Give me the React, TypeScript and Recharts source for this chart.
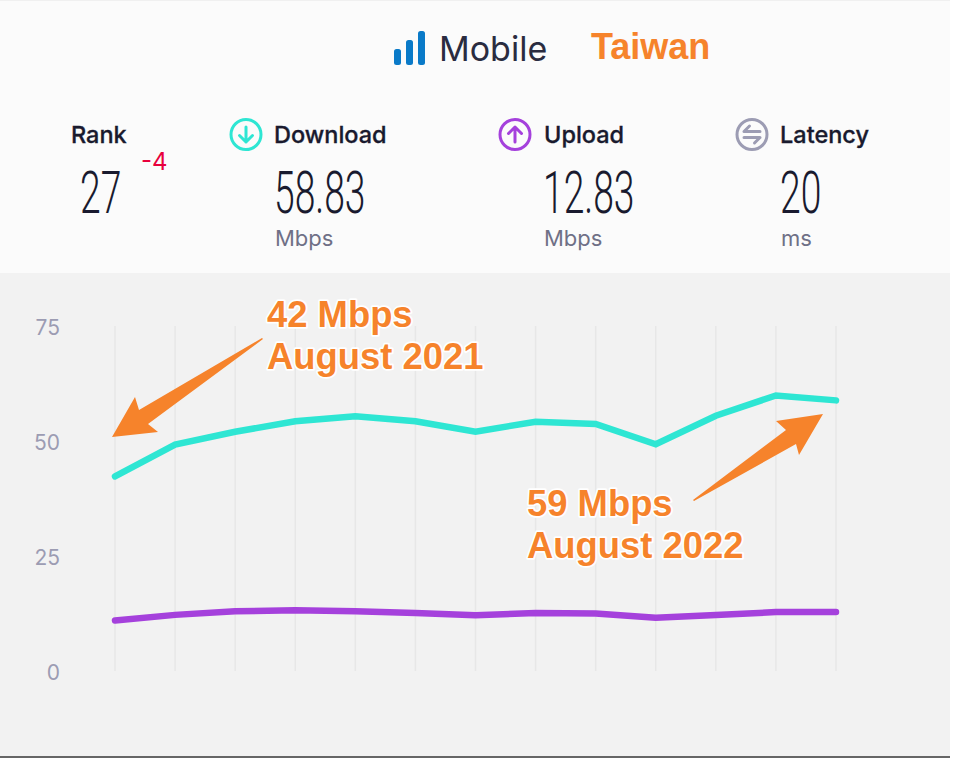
import { LineChart, Line, XAxis, YAxis, CartesianGrid } from "recharts";

const months = ["Aug 21", "Sep 21", "Oct 21", "Nov 21", "Dec 21", "Jan 22", "Feb 22", "Mar 22", "Apr 22", "May 22", "Jun 22", "Jul 22", "Aug 22"];
const download = [42.3, 49.2, 52, 54.3, 55.4, 54.3, 52, 54.2, 53.7, 49.3, 55.5, 59.9, 58.83];
const upload = [11, 12.2, 13, 13.2, 13, 12.6, 12.1, 12.6, 12.5, 11.6, 12.2, 12.8, 12.83];
const yTicks = [0, 25, 50, 75];

const chartData = months.map((month, i) => ({ month, download: download[i], upload: upload[i] }));

const ORANGE = "#f6832b";
const TEAL = "#2ee6d3";
const PURPLE = "#a541dc";
const GREY = "#9c9cb3";
const DARK = "#191a2e";
const LABEL_FONT = "Inter, sans-serif";
const NOTE_FONT = "'Liberation Sans', Arial, sans-serif";

function Label({ x, y, text }: { x: number; y: number; text: string }) {
  return (
    <div style={{ position: "absolute", left: x, top: y, fontFamily: LABEL_FONT, fontWeight: 500, fontSize: 23.5, lineHeight: "30px", color: DARK, whiteSpace: "nowrap", WebkitTextStroke: "0.3px #191a2e" }}>
      {text}
    </div>
  );
}

// thin condensed numbers, squeezed from a light font
function BigNum({ x, text }: { x: number; text: string }) {
  return (
    <div style={{ position: "absolute", left: x, top: 170, fontFamily: "Roboto, sans-serif", fontWeight: 300, fontSize: 60, lineHeight: "46px", color: DARK, whiteSpace: "nowrap", transform: "scaleX(0.62)", transformOrigin: "left top" }}>
      {text}
    </div>
  );
}

function Unit({ x, text }: { x: number; text: string }) {
  return (
    <div style={{ position: "absolute", left: x, top: 226, fontFamily: LABEL_FONT, fontSize: 22, lineHeight: "24px", color: "#6f7086", whiteSpace: "nowrap" }}>
      {text}
    </div>
  );
}

function Note({ x, y, text }: { x: number; y: number; text: string }) {
  return (
    <text x={x} y={y} fontFamily={NOTE_FONT} fontWeight={700} fontSize={36.4} fill={ORANGE} stroke="#ffffff" strokeWidth={3.5} strokeLinejoin="round" style={{ paintOrder: "stroke" }}>
      {text}
    </text>
  );
}

export default function App() {
  return (
    <div style={{ position: "absolute", left: 0, top: 0, width: 960, height: 766, background: "#ffffff", overflow: "hidden" }}>
      <div style={{ position: "absolute", left: 0, top: 0, width: 950, height: 273, background: "#fbfbfb", borderTop: "1px solid #f0f0f0", boxSizing: "border-box" }} />
      <div style={{ position: "absolute", left: 0, top: 273, width: 950, height: 483, background: "#f2f2f2", borderBottom: "2px solid #666666" }}>
        <LineChart width={950} height={483} data={chartData} margin={{ top: 53, right: 114, bottom: 85, left: 0 }}>
          <CartesianGrid horizontal={false} stroke="#e7e7e7" strokeWidth={1.5} />
          <XAxis dataKey="month" hide />
          <YAxis
            domain={[0, 75]}
            ticks={yTicks}
            width={115}
            axisLine={false}
            tickLine={false}
            tickSize={0}
            tickMargin={55}
            tick={{ fill: GREY, fontSize: 21, fontFamily: LABEL_FONT, dy: 2 }}
          />
          <Line dataKey="download" stroke={TEAL} strokeWidth={6.5} strokeLinecap="round" dot={false} isAnimationActive={false} />
          <Line dataKey="upload" stroke={PURPLE} strokeWidth={6.5} strokeLinecap="round" dot={false} isAnimationActive={false} />
        </LineChart>
      </div>

      {/* header */}
      <svg width={34} height={36} style={{ position: "absolute", left: 393, top: 30 }}>
        <rect x={1} y={19} width={7} height={16} rx={2.5} fill="#0a7ac8" />
        <rect x={13} y={10} width={7} height={25} rx={2.5} fill="#0a7ac8" />
        <rect x={25} y={1} width={7} height={34} rx={2.5} fill="#0a7ac8" />
      </svg>
      <div style={{ position: "absolute", left: 439, top: 27, fontFamily: LABEL_FONT, fontSize: 34, lineHeight: "44px", color: "#2a2c40" }}>Mobile</div>
      <div style={{ position: "absolute", left: 591, top: 25, fontFamily: NOTE_FONT, fontWeight: 700, fontSize: 36, lineHeight: "44px", color: ORANGE }}>Taiwan</div>

      <Label x={71} y={120} text="Rank" />
      <Label x={274} y={120} text="Download" />
      <Label x={544} y={120} text="Upload" />
      <Label x={780} y={120} text="Latency" />

      <BigNum x={80} text="27" />
      <BigNum x={274} text="58.83" />
      <BigNum x={543} text="12.83" />
      <BigNum x={780} text="20" />
      <div style={{ position: "absolute", left: 141, top: 147, fontFamily: LABEL_FONT, fontSize: 24, lineHeight: "30px", color: "#e8003c" }}>-4</div>

      <Unit x={275} text="Mbps" />
      <Unit x={544} text="Mbps" />
      <Unit x={781} text="ms" />

      {/* stat icons and orange notes */}
      <svg width={960} height={766} style={{ position: "absolute", left: 0, top: 0 }}>
        <g fill="none" strokeWidth={3} strokeLinecap="round" strokeLinejoin="round">
          <circle cx={246} cy={134.5} r={15} stroke={TEAL} />
          <path d="M246 127V142M239.5 135.5L246 142L252.5 135.5" stroke={TEAL} />
          <circle cx={515} cy={134.5} r={15} stroke={PURPLE} />
          <path d="M515 142V127M508.500 133.500L515 127L521.500 133.500" stroke={PURPLE} />
          <circle cx={752} cy={134.5} r={15} stroke={GREY} />
          <path d="M744 131.500H760M749.500 126L744 131.500M744 137.500H760M754.500 143L760 137.500" stroke={GREY} />
        </g>
        <path d="M262 338L139 410L135 397L112 437L158 432L148 424L263 339Z" fill={ORANGE} />
        <path d="M694 501L796 444L799 455L823 414L776 421L786 430L693 500Z" fill={ORANGE} />
        <Note x={267} y={327} text="42 Mbps" />
        <Note x={267} y={369} text="August 2021" />
        <Note x={527} y={516} text="59 Mbps" />
        <Note x={527} y={558} text="August 2022" />
      </svg>
    </div>
  );
}
